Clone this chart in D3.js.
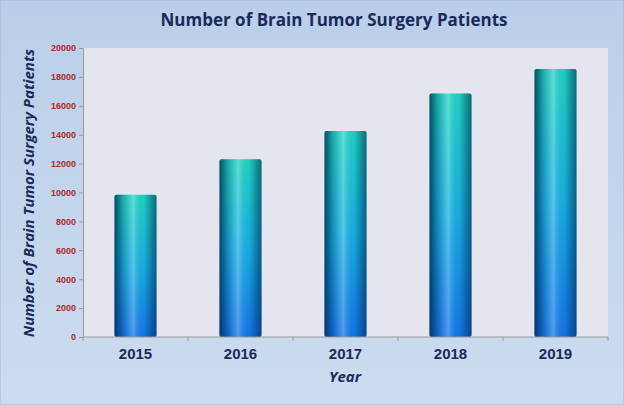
<!DOCTYPE html><html><head><meta charset="utf-8"><script src="https://cdn.jsdelivr.net/npm/d3@7"></script>
<style>body{margin:0}svg{display:block}</style></head><body><script>
const categories=["2015","2016","2017","2018","2019"];
const values=[9850,12300,14250,16850,18550];
const yTicks=[0,2000,4000,6000,8000,10000,12000,14000,16000,18000,20000];
const W=624,H=405;
const svg=d3.select("body").append("svg").attr("width",W).attr("height",H);
const defs=svg.append("defs");
const bg=defs.append("linearGradient").attr("id","bg").attr("x1",0).attr("y1",0).attr("x2",0).attr("y2",1);
bg.append("stop").attr("offset",0).attr("stop-color","#b9cfe9");
bg.append("stop").attr("offset",1).attr("stop-color","#cddcef");
const vg=defs.append("linearGradient").attr("id","vg").attr("x1",0).attr("y1",0).attr("x2",0).attr("y2",1);
vg.append("stop").attr("offset",0).attr("stop-color","#22d8c8");
vg.append("stop").attr("offset",0.5).attr("stop-color","#18b4e8");
vg.append("stop").attr("offset",1).attr("stop-color","#1478ee");
const hg=defs.append("linearGradient").attr("id","hg").attr("x1",0).attr("y1",0).attr("x2",1).attr("y2",0);
[[0,"#002040",0.75],[0.2,"#002040",0.25],[0.45,"#ffffff",0.25],[0.7,"#002040",0.05],[1,"#002040",0.6]].forEach(s=>hg.append("stop").attr("offset",s[0]).attr("stop-color",s[1]).attr("stop-opacity",s[2]));
svg.append("rect").attr("width",W).attr("height",H).attr("fill","url(#bg)").attr("stroke","#9fb6d6");
const m={l:83,r:608,t:48,b:337};
svg.append("rect").attr("x",m.l).attr("y",m.t).attr("width",m.r-m.l).attr("height",m.b-m.t).attr("fill","#e5e5ef");
const x=d3.scaleBand().domain(categories).range([m.l,m.r]).paddingInner(0.6).paddingOuter(0.3);
const y=d3.scaleLinear().domain([0,20000]).range([m.b,m.t]);
const bars=svg.append("g").selectAll("g").data(categories).join("g");
bars.append("rect").attr("x",d=>x(d)).attr("width",x.bandwidth()).attr("y",(d,i)=>y(values[i])).attr("height",(d,i)=>m.b-y(values[i])).attr("rx",2).attr("fill","url(#vg)");
bars.append("rect").attr("x",d=>x(d)).attr("width",x.bandwidth()).attr("y",(d,i)=>y(values[i])).attr("height",(d,i)=>m.b-y(values[i])).attr("rx",2).attr("fill","url(#hg)");
const ya=svg.append("g").attr("transform",`translate(${m.l},0)`).call(d3.axisLeft(y).tickValues(yTicks).tickSize(4).tickFormat(d3.format("d")));
ya.selectAll("text").attr("fill","#b02828").attr("font-family","Liberation Sans, Arial").attr("font-weight","bold").attr("font-size",9);
ya.selectAll("line,path").attr("stroke","#999");
const xa=svg.append("g").attr("transform",`translate(0,${m.b})`);
xa.append("line").attr("x1",m.l).attr("x2",m.r).attr("stroke","#999");
const step=x.step();
d3.range(6).forEach(i=>xa.append("line").attr("x1",m.l+i*step).attr("x2",m.l+i*step).attr("y1",0).attr("y2",4).attr("stroke","#999"));
xa.selectAll("text").data(categories).join("text").attr("x",d=>x(d)+x.bandwidth()/2).attr("y",22).attr("text-anchor","middle").attr("fill","#1a2a5a").attr("font-family","Liberation Sans, Arial").attr("font-weight","bold").attr("font-size",15).text(d=>d);
svg.append("text").attr("x",W/2+22).attr("y",26).attr("text-anchor","middle").attr("fill","#1a2a5a").attr("font-family","Open Sans, sans-serif").attr("font-weight","bold").attr("font-size",17).text("Number of Brain Tumor Surgery Patients");
svg.append("text").attr("x",345).attr("y",382).attr("text-anchor","middle").attr("fill","#1a2a5a").attr("font-family","Open Sans, sans-serif").attr("font-style","italic").attr("font-weight","bold").attr("font-size",15).text("Year");
svg.append("text").attr("transform","translate(34,193) rotate(-90)").attr("text-anchor","middle").attr("fill","#1a2a5a").attr("font-family","Open Sans, sans-serif").attr("font-style","italic").attr("font-weight","bold").attr("font-size",15).text("Number of Brain Tumor Surgery Patients");
</script></body></html>
